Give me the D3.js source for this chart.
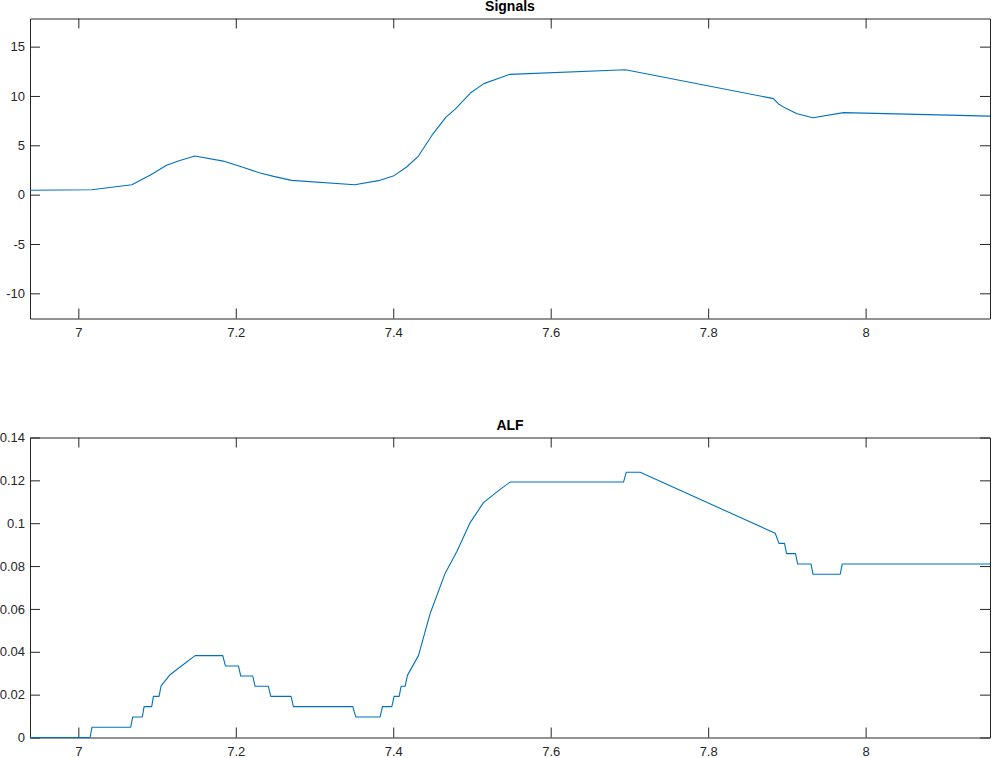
<!DOCTYPE html>
<html>
<head>
<meta charset="utf-8">
<script src="https://cdn.jsdelivr.net/npm/d3@7"></script>
<style>
  body { margin: 0; background: #fff; }
  svg { display: block; }
</style>
</head>
<body>
<div id="chart"></div>
<script>
// Signals trace
var sigT = [6.9386, 7.017, 7.068, 7.091, 7.112, 7.129, 7.148, 7.184, 7.205, 7.231, 7.248, 7.271,
            7.351, 7.383, 7.400, 7.417, 7.432, 7.449, 7.467, 7.479, 7.498, 7.515, 7.536, 7.548,
            7.695, 7.883, 7.889, 7.898, 7.913, 7.933, 7.972, 8.158]
var sigV = [0.45, 0.5, 1.0, 1.96, 2.97, 3.47, 3.91, 3.4, 2.87, 2.19, 1.85, 1.45,
            1.01, 1.45, 1.88, 2.8, 3.91, 6.0, 7.86, 8.7, 10.3, 11.25, 11.85, 12.19,
            12.66, 9.73, 9.22, 8.77, 8.2, 7.8, 8.31, 7.96]

// ALF trace
var alfT = [6.9386, 7.0148, 7.0174, 7.0665, 7.0691, 7.0813, 7.0835, 7.0932, 7.0953, 7.1025,
            7.1051, 7.1165, 7.1313, 7.1483, 7.1835, 7.1868, 7.2033, 7.2063, 7.2216, 7.2245,
            7.2414, 7.2444, 7.2702, 7.2732, 7.3486, 7.3524, 7.3833, 7.3863, 7.3982, 7.4011,
            7.4075, 7.4100, 7.4151, 7.4180, 7.432, 7.447, 7.466, 7.4808, 7.4977, 7.5146,
            7.5358, 7.5485, 7.6925, 7.696, 7.7137, 7.8852, 7.8899, 7.897, 7.8996, 7.911,
            7.9136, 7.9306, 7.9331, 7.9678, 7.9703, 8.158]
var alfV = [0, 0, 0.0048, 0.0048, 0.0096, 0.0096, 0.0144, 0.0144, 0.0192, 0.0192,
            0.0241, 0.0293, 0.0335, 0.0382, 0.0382, 0.0334, 0.0334, 0.0287, 0.0287, 0.0239,
            0.0239, 0.0192, 0.0192, 0.0144, 0.0144, 0.0096, 0.0096, 0.0144, 0.0144, 0.0192,
            0.0192, 0.0239, 0.0239, 0.029, 0.0382, 0.058, 0.0767, 0.0868, 0.1003, 0.1096,
            0.1158, 0.1192, 0.1192, 0.1238, 0.1238, 0.0953, 0.0906, 0.0906, 0.0858, 0.0858,
            0.081, 0.081, 0.0762, 0.0762, 0.081, 0.081]

var xTicks = [7, 7.2, 7.4, 7.6, 7.8, 8]
var sigYTicks = [-10, -5, 0, 5, 10, 15]
var alfYTicks = [0, 0.02, 0.04, 0.06, 0.08, 0.1, 0.12, 0.14]

var svgWidth = 992
var svgHeight = 758

var svg = d3.select("#chart")
    .append("svg")
    .attr("width", svgWidth)
    .attr("height", svgHeight)

var axisColor = "#262626"
var lineColor = "#0072BD"

drawPanel({
    title: "Signals",
    left: 30, right: 990, top: 18.5, bottom: 318.5,
    xDomain: [6.9386, 8.158], yDomain: [-12.55, 17.85],
    yTicks: sigYTicks, t: sigT, v: sigV
})

drawPanel({
    title: "ALF",
    left: 30, right: 990, top: 437.5, bottom: 737.5,
    xDomain: [6.9386, 8.158], yDomain: [0, 0.14],
    yTicks: alfYTicks, t: alfT, v: alfV
})

function drawPanel(p) {
    var width = p.right - p.left
    var height = p.bottom - p.top

    var g = svg.append("g")
        .attr("transform", "translate(" + p.left + "," + p.top + ")")

    var x = d3.scaleLinear().domain(p.xDomain).range([0, width])
    var y = d3.scaleLinear().domain(p.yDomain).range([height, 0])

    var fmt = function(d) { return String(d).replace("\u2212", "-") }

    // bottom axis with labels
    g.append("g")
        .attr("transform", "translate(0," + height + ")")
        .call(function(s) {
            styleAxis(s, d3.axisBottom(x).tickValues(xTicks).tickFormat(fmt)
                .tickSizeInner(-10).tickSizeOuter(0).tickPadding(9))
        })
    // top axis, ticks only
    g.append("g")
        .call(function(s) {
            styleAxis(s, d3.axisTop(x).tickValues(xTicks).tickFormat("")
                .tickSizeInner(-10).tickSizeOuter(0))
        })
    // left axis with labels
    g.append("g")
        .call(function(s) {
            styleAxis(s, d3.axisLeft(y).tickValues(p.yTicks).tickFormat(fmt)
                .tickSizeInner(-10).tickSizeOuter(0).tickPadding(5))
        })
    // right axis, ticks only
    g.append("g")
        .attr("transform", "translate(" + width + ",0)")
        .call(function(s) {
            styleAxis(s, d3.axisRight(y).tickValues(p.yTicks).tickFormat("")
                .tickSizeInner(-10).tickSizeOuter(0))
        })

    var line = d3.line()
        .x(function(d, i) { return x(p.t[i]) })
        .y(function(d, i) { return y(p.v[i]) })

    g.append("path")
        .datum(p.v)
        .attr("d", line)
        .attr("fill", "none")
        .attr("stroke", lineColor)
        .attr("stroke-width", 1.1)
        .attr("stroke-linejoin", "round")

    svg.append("text")
        .attr("x", (p.left + p.right) / 2)
        .attr("y", p.top - 7.5)
        .attr("text-anchor", "middle")
        .style("font-family", "Liberation Sans, Arial, sans-serif")
        .style("font-weight", "bold")
        .style("font-size", "14px")
        .style("fill", "#000")
        .text(p.title)
}

function styleAxis(g, axis) {
    g.call(axis)
    g.select(".domain").attr("stroke", axisColor).attr("stroke-width", 1)
    g.selectAll(".tick line").attr("stroke", axisColor).attr("stroke-width", 1)
    g.selectAll("text")
        .style("font-family", "Liberation Sans, Arial, sans-serif")
        .style("font-size", "13px")
        .style("fill", axisColor)
}
</script>
</body>
</html>
